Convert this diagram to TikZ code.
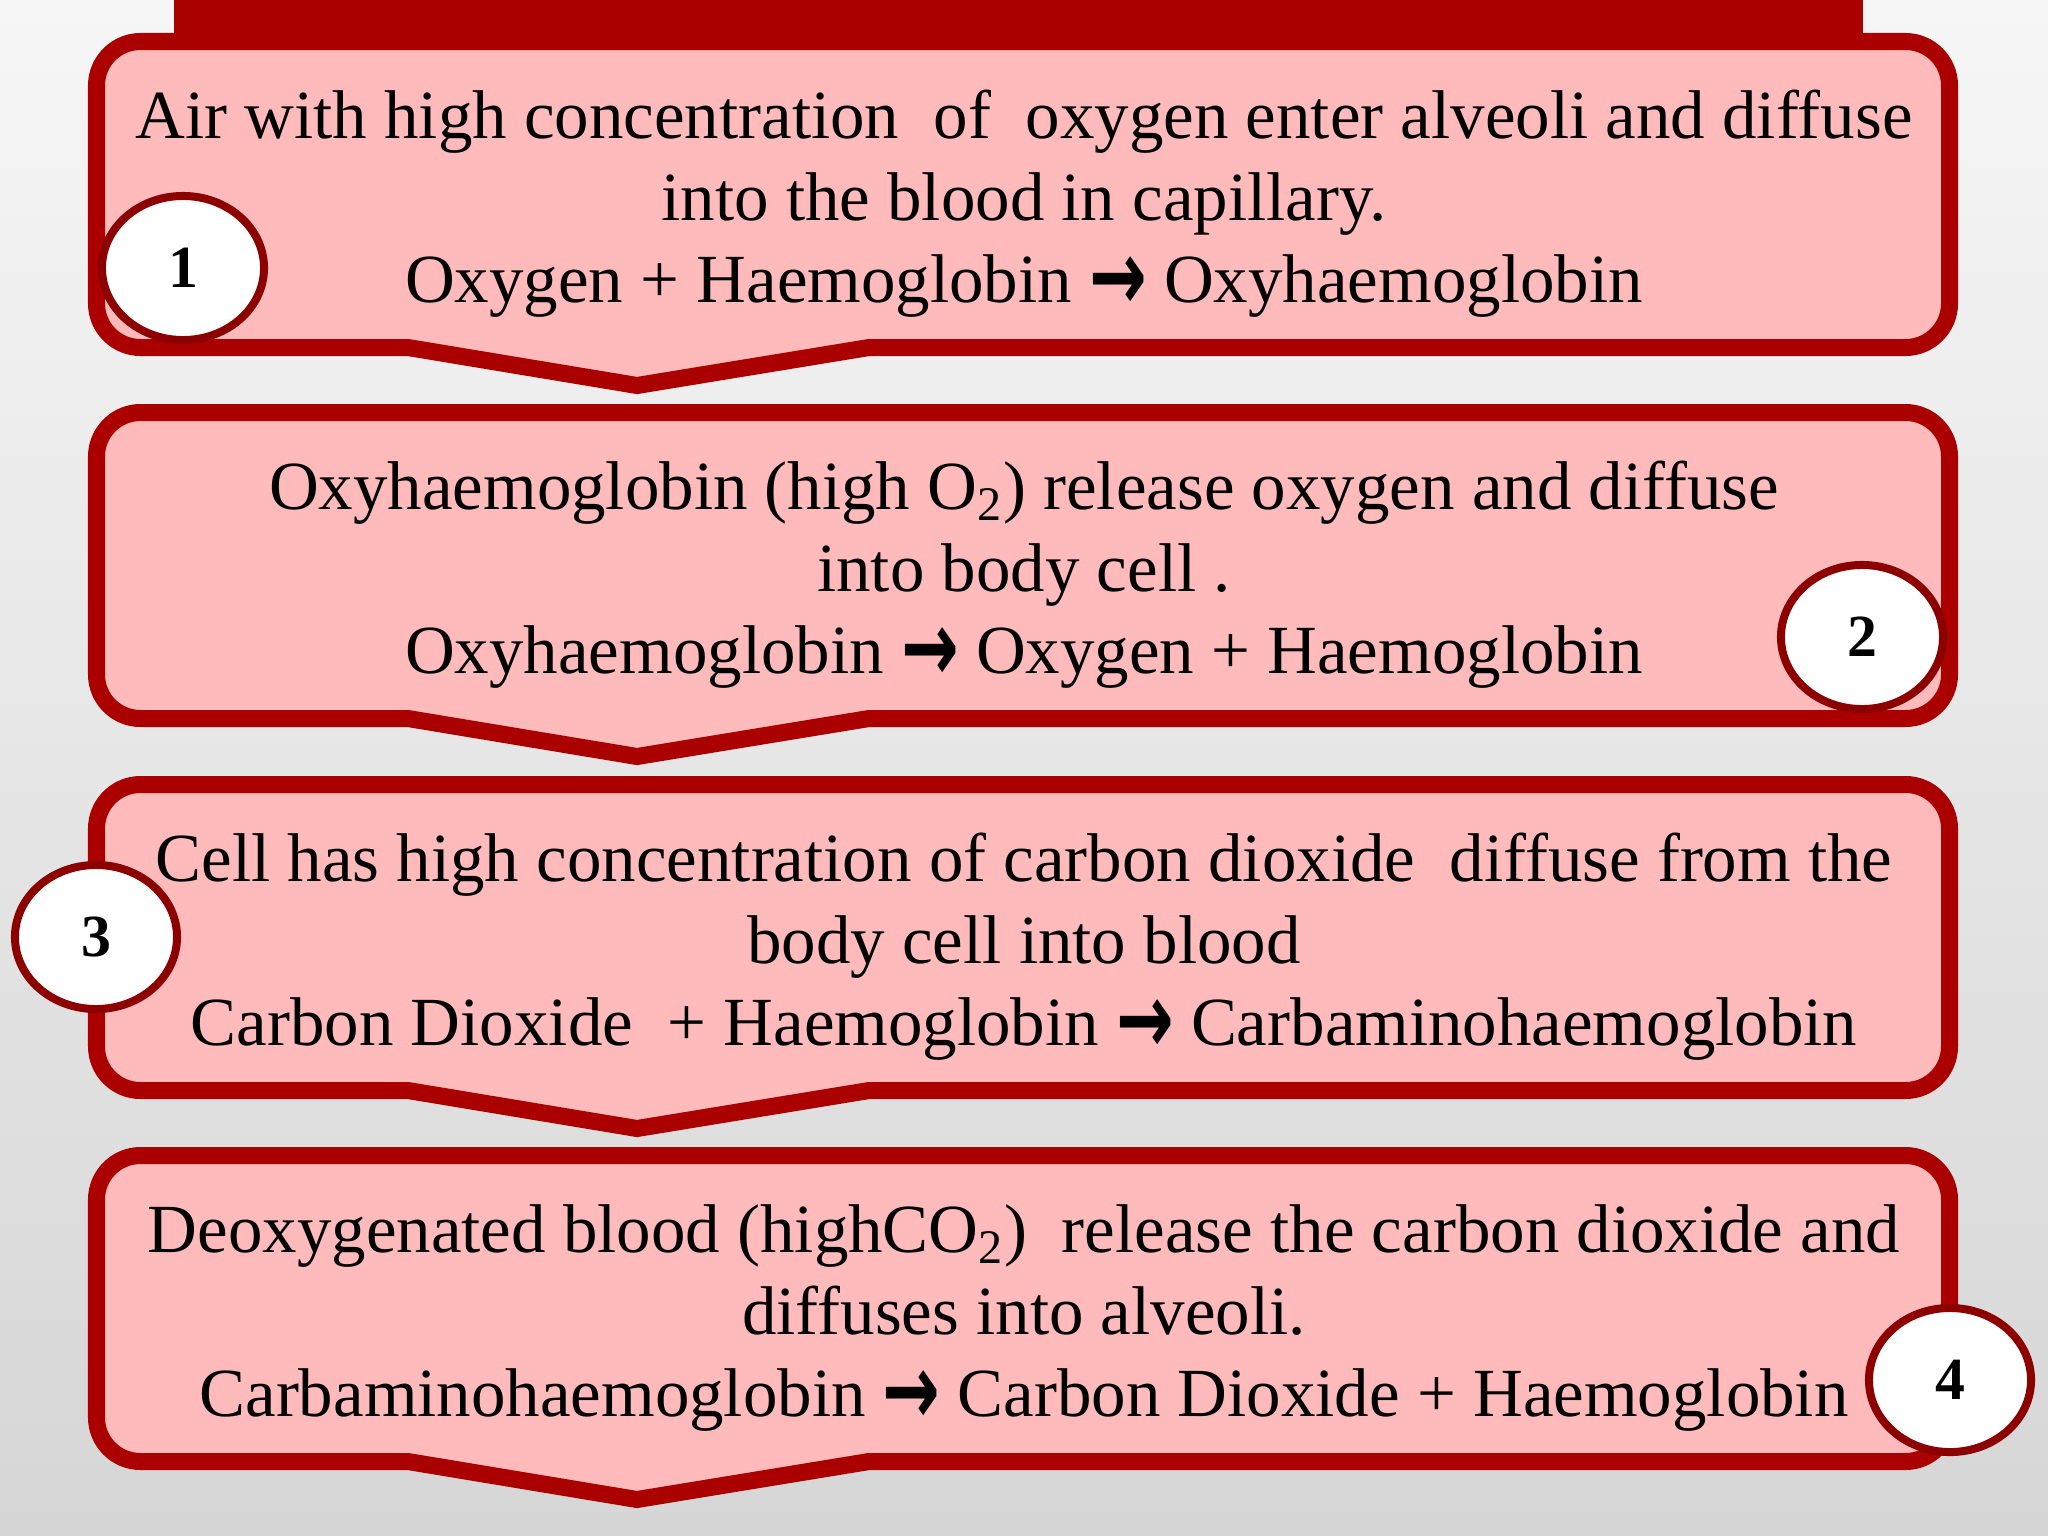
\documentclass[tikz,border=0pt]{standalone}
\usepackage{fontspec}
\setmainfont{Liberation Serif}
\newfontfamily\arrowfont{DejaVu Sans}
\usetikzlibrary{shapes.geometric}
\definecolor{FrameClr}{RGB}{170,0,0}
\definecolor{BoxClr}{RGB}{255,187,187}
\definecolor{RingClr}{RGB}{140,0,0}
\definecolor{BackTopClr}{RGB}{246,246,246}
\definecolor{BackBotClr}{RGB}{214,214,214}
\newcommand{\yields}{\raisebox{-0.13em}{\scalebox{1}[1.45]{\arrowfont\bfseries →}}}

\begin{document}
\begin{tikzpicture}[x=0.01cm,y=-0.01cm,
  stepbox/.style={fill=BoxClr,draw=FrameClr,line width=0.17cm,line join=miter},
  steptext/.style={align=center,inner sep=0pt,anchor=base,font=\fontsize{19.6}{23.3}\selectfont},
  numring/.style={ellipse,draw=RingClr,fill=white,line width=0.08cm,
    minimum width=1.62cm,minimum height=1.44cm,inner sep=0pt,
    font=\fontsize{17}{17}\selectfont\bfseries}]
\useasboundingbox (0,0) rectangle (2048,1536);
\shade[top color=BackTopClr,bottom color=BackBotClr] (0,0) rectangle (2048,1536);

% title bar behind the first box
\fill[FrameClr] (174,0) rectangle (1863,60);

% the four boxes with their chevrons
\foreach \t in {33,404,776,1147}{
  \draw[stepbox] (869,\t+314.5) -- (637,\t+352.5) -- (408,\t+314.5)
    [rounded corners=0.44cm] -- (96.5,\t+314.5) -- (96.5,\t+8.5)
    -- (1949.5,\t+8.5) -- (1949.5,\t+314.5) [sharp corners] -- cycle;
}

% node base = baseline of the last line
\node[steptext] (t1) at (1024,302) {Air with high concentration\ \ of\ \ oxygen enter alveoli and diffuse\\
  into the blood in capillary.\\
  Oxygen + Haemoglobin \yields{} Oxyhaemoglobin};
\node[steptext] (t2) at (1024,673) {Oxyhaemoglobin (high O\textsubscript{2}) release oxygen and diffuse\\
  into body cell .\\
  Oxyhaemoglobin \yields{} Oxygen + Haemoglobin};
\node[steptext] (t3) at (1024,1045) {Cell has high concentration of carbon dioxide\ \ diffuse from the\\
  body cell into blood\\
  Carbon Dioxide\ \ + Haemoglobin \yields{} Carbaminohaemoglobin};
\node[steptext] (t4) at (1024,1416) {Deoxygenated blood (highCO\textsubscript{2})\ \ release the carbon dioxide and\\
  diffuses into alveoli.\\
  Carbaminohaemoglobin \yields{} Carbon Dioxide + Haemoglobin};

% step numbers
\node[numring] (n1) at (183,268) {1};
\node[numring] (n2) at (1862,637) {2};
\node[numring] (n3) at (96,937) {3};
\node[numring] (n4) at (1950,1380) {4};

\end{tikzpicture}
\end{document}
